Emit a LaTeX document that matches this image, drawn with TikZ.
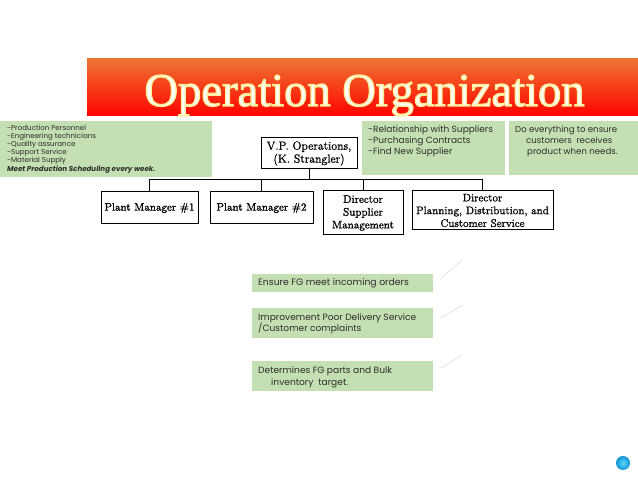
\documentclass[tikz,border=0pt]{standalone}
\usepackage{fontspec}
\newfontfamily\gothic{Poppins}
\newfontfamily\titlefont{Liberation Serif}
\newfontfamily\chartfont{Latin Modern Roman}[FakeBold=1.2]
\definecolor{gfill}{HTML}{C4DFB2}
\definecolor{bannertop}{HTML}{EE7532}
\definecolor{bannerbot}{HTML}{FF0500}
\definecolor{gtext}{HTML}{2E2E2E}
\definecolor{faint}{HTML}{E4E4E4}
\definecolor{ballblue}{HTML}{0F93D2}
\definecolor{balllight}{HTML}{5FD8FF}
\begin{document}
\begin{tikzpicture}[x=1pt,y=-1pt,
  orgbox/.style={draw=black, line width=1pt, fill=white, inner sep=0pt, align=center,
    font=\chartfont\fontsize{11}{12.8}\selectfont},
  notebox/.style={fill=gfill, inner sep=0pt, anchor=north west},
  notetext/.style={inner sep=0pt, anchor=north west, align=left, text=gtext},
  conn/.style={draw=black, line width=1pt},
  faintline/.style={draw=faint, line width=0.8pt}
]
\useasboundingbox (0,0) rectangle (638,478);
\fill[white] (0,0) rectangle (638,478);

% title banner
\node[inner sep=0pt, minimum width=551pt, minimum height=57pt, anchor=north west,
  top color=bannertop, bottom color=bannerbot] (banner) at (87,58) {};
\node[inner sep=0pt, anchor=base, text=white, font=\titlefont] (title) at (364.5,106)
  {\resizebox{440pt}{31pt}{\special{pdf:literal direct 2 Tr 0.28 w 1 0.93 0.6 RG}Operation Organization\special{pdf:literal direct 0 Tr}}};

% green notes (top)
\node[notebox, minimum width=212pt, minimum height=56pt] (n1box) at (0,121) {};
\node[notetext, font=\gothic\fontsize{7.1}{8.2}\selectfont] (n1) at (7,124.5)
  {-Production Personnel\\-Engineering technicians\\-Quality assurance\\-Support Service\\-Material Supply\\\textbf{\textit{Meet Production Scheduling every week.}}};

\node[notebox, minimum width=143pt, minimum height=54pt] (n2box) at (362,121) {};
\node[notetext, font=\gothic\fontsize{9}{11}\selectfont] (n2) at (368,125.5)
  {-Relationship with Suppliers\\-Purchasing Contracts\\-Find New Supplier};

\node[notebox, minimum width=129pt, minimum height=54pt] (n3box) at (509,121) {};
\node[notetext, font=\gothic\fontsize{8.6}{11}\selectfont] (n3) at (515,125.5)
  {Do everything to ensure\\\hspace*{11pt}customers\ \ receives\\\hspace*{12pt}product when needs.};

% org chart
\node[orgbox, minimum width=96pt, minimum height=31pt, font=\chartfont\fontsize{11.8}{13}\selectfont] (vp) at (309,153.5) {V.P. Operations,\\(K. Strangler)};
\node[orgbox, minimum width=97pt, minimum height=32pt] (pm1) at (149.5,208) {Plant Manager \#1};
\node[orgbox, minimum width=103pt, minimum height=32pt] (pm2) at (261.5,208) {Plant Manager \#2};
\node[orgbox, minimum width=80pt, minimum height=44pt] (dirs) at (363,213) {Director\\Supplier\\Management};
\node[orgbox, minimum width=141pt, minimum height=39pt] (dirp) at (482.5,210.5) {Director\\Planning, Distribution, and\\Customer Service};

\coordinate (bus) at (309,180);
\draw[conn] (vp.south) -- (vp.south |- bus);
\draw[conn] (pm1.north) -- (pm1.north |- bus) -- (dirp.north |- bus) -- (dirp.north);
\draw[conn] (pm2.north) -- (pm2.north |- bus);
\draw[conn] (dirs.north) -- (dirs.north |- bus);

% green notes (bottom)
\node[notebox, minimum width=181pt, minimum height=18pt] (nabox) at (252,274) {};
\node[notetext, anchor=west, font=\gothic\fontsize{9.3}{11}\selectfont] (na) at (258,283)
  {Ensure FG meet incoming orders};

\node[notebox, minimum width=181pt, minimum height=30pt] (nbbox) at (252,308) {};
\node[notetext, anchor=west, font=\gothic\fontsize{9.1}{11}\selectfont] (nb) at (258,323.5)
  {Improvement Poor Delivery Service\\/Customer complaints};

\node[notebox, minimum width=181pt, minimum height=30pt] (ncbox) at (252,361) {};
\node[notetext, anchor=west, font=\gothic\fontsize{9.1}{11.8}\selectfont] (nc) at (258,377)
  {Determines FG parts and Bulk\\\hspace*{13pt}inventory\ \ target.};

% faint pointer strokes
\coordinate (fa1) at (440,279); \coordinate (fa2) at (462,260);
\coordinate (fb1) at (440,318); \coordinate (fb2) at (463,305);
\coordinate (fc1) at (441,368); \coordinate (fc2) at (462,355);
\draw[faintline] (fa1) -- (fa2);
\draw[faintline] (fb1) -- (fb2);
\draw[faintline] (fc1) -- (fc2);

% blue ball
\node[circle, inner sep=0pt, minimum size=14pt, shading=radial,
  inner color=balllight, outer color=ballblue] (ball) at (623,463) {};
\end{tikzpicture}
\end{document}
